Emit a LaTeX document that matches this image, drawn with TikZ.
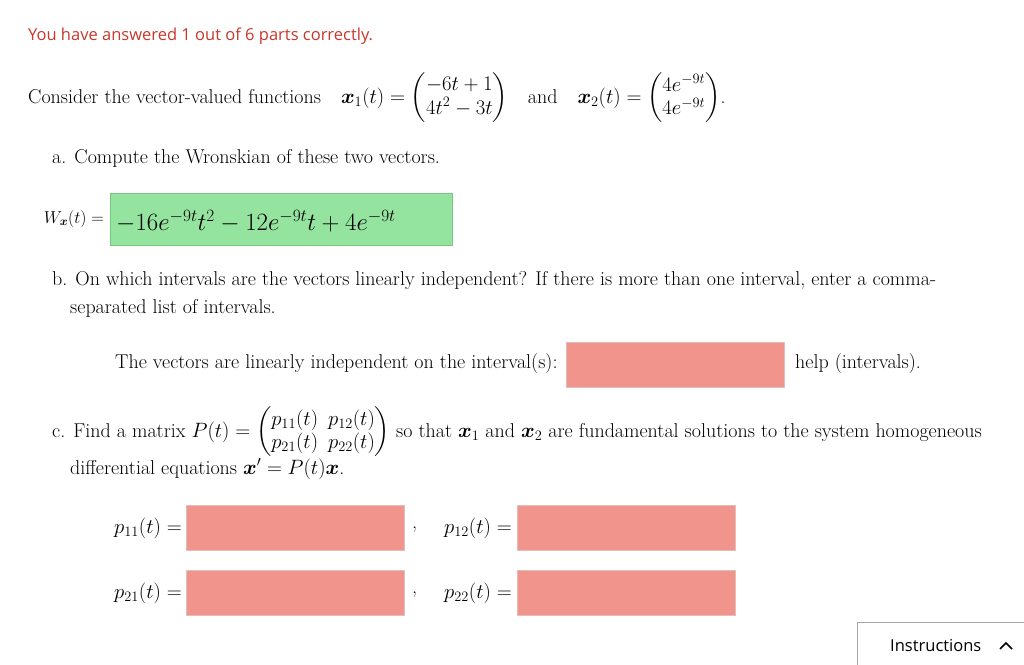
\documentclass[tikz,border=0pt]{standalone}
\usepackage{amsmath,bm}
\usepackage{fontspec}
\newfontfamily\uisans{Open Sans}
\definecolor{redtxt}{RGB}{200,55,45}
\definecolor{okgreen}{RGB}{148,228,160}
\definecolor{okgreenb}{RGB}{120,200,130}
\definecolor{badred}{RGB}{240,148,140}
\definecolor{badredb}{RGB}{225,190,185}
\tikzset{
 txt/.style={anchor=west,inner sep=0pt,font=\fontsize{20}{23}\selectfont},
 ans/.style={draw=badredb,fill=badred},
}
\begin{document}
\begin{tikzpicture}[x=1pt,y=-1pt]
\useasboundingbox (0,0) rectangle (1024,664);
\fill[white] (0,0) rectangle (1024,664);
\node[txt,font=\uisans\fontsize{16.5}{19}\selectfont,text=redtxt] (hdr) at (28,36) {You have answered 1 out of 6 parts correctly.};
\node[txt] (l1) at (28,98) {Consider the vector-valued functions\quad $\bm{x}_1(t)=\begin{pmatrix}-6t+1\\4t^2-3t\end{pmatrix}$\quad and\quad $\bm{x}_2(t)=\begin{pmatrix}4e^{-9t}\\4e^{-9t}\end{pmatrix}$.};
\node[txt] (qa) at (52,158) {a. Compute the Wronskian of these two vectors.};
\node[txt,anchor=east,font=\fontsize{17}{20}\selectfont] (wl) at (104,219) {$W_{\bm{x}}(t)=$};
\node[draw=okgreenb,fill=okgreen,minimum width=342,minimum height=52,inner sep=0pt,anchor=north west] (wb) at (110,193) {};
\node[txt,font=\fontsize{25}{27}\selectfont] (wt) at (116,221) {$-16e^{-9t}t^2-12e^{-9t}t+4e^{-9t}$};
\node[txt] (qb1) at (52,281) {b. On which intervals are the vectors linearly independent? If there is more than one interval, enter a comma-};
\node[txt] (qb2) at (70,308) {separated list of intervals.};
\node[txt] (bl) at (115,364) {The vectors are linearly independent on the interval(s):};
\node[ans,minimum width=218,minimum height=45,inner sep=0pt,anchor=north west] (b1) at (566,342) {};
\node[txt] (help) at (795,364) {help (intervals).};
\node[txt] (qc1) at (52,432) {c. Find a matrix $P(t)=\begin{pmatrix}p_{11}(t)&p_{12}(t)\\p_{21}(t)&p_{22}(t)\end{pmatrix}$ so that $\bm{x}_1$ and $\bm{x}_2$ are fundamental solutions to the system homogeneous};
\node[txt] (qc2) at (70,469) {differential equations $\bm{x}'=P(t)\bm{x}$.};
\node[txt] (p11) at (114,528) {$p_{11}(t)=$};
\node[ans,minimum width=218,minimum height=45,inner sep=0pt,anchor=north west] (a11) at (186,505) {};
\node[txt] (c1) at (412,530) {,};
\node[txt] (p12) at (444,528) {$p_{12}(t)=$};
\node[ans,minimum width=218,minimum height=45,inner sep=0pt,anchor=north west] (a12) at (517,505) {};
\node[txt] (p21) at (114,593) {$p_{21}(t)=$};
\node[ans,minimum width=218,minimum height=45,inner sep=0pt,anchor=north west] (a21) at (186,570) {};
\node[txt] (c2) at (412,595) {,};
\node[txt] (p22) at (444,593) {$p_{22}(t)=$};
\node[ans,minimum width=218,minimum height=45,inner sep=0pt,anchor=north west] (a22) at (517,570) {};
\node[draw=gray!70,fill=white,minimum width=170,minimum height=46,inner sep=0pt,anchor=north west] (ib) at (857,622) {};
\node[txt,font=\uisans\fontsize{16.5}{19}\selectfont] (it) at (890,646) {Instructions};
\draw[line width=1.6pt] (1000,649) -- (1006,643) -- (1012,649);
\end{tikzpicture}
\end{document}
